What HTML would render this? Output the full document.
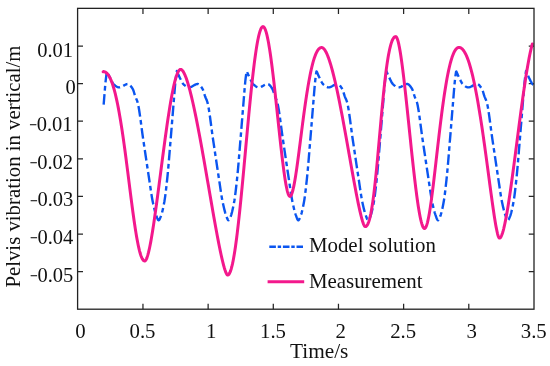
<!DOCTYPE html>
<html><head><meta charset="utf-8"><title>Pelvis vibration</title>
<style>
html,body{margin:0;padding:0;background:#fff;}
body{width:550px;height:366px;overflow:hidden;}
svg{display:block;}
text{font-family:"Liberation Serif","Times New Roman",serif;font-size:20.8px;fill:#111;}
</style></head><body>
<svg width="550" height="366" viewBox="0 0 550 366">
<rect width="550" height="366" fill="#fff"/>
<defs><clipPath id="c"><rect x="77.8" y="8.4" width="456.15000000000003" height="300.8"/></clipPath></defs>
<path d="M142.96,309.20V303.70M142.96,8.40V13.90M208.13,309.20V303.70M208.13,8.40V13.90M273.29,309.20V303.70M273.29,8.40V13.90M338.46,309.20V303.70M338.46,8.40V13.90M403.62,309.20V303.70M403.62,8.40V13.90M468.79,309.20V303.70M468.79,8.40V13.90M77.80,271.60H83.00M533.95,271.60H528.75M77.80,234.00H83.00M533.95,234.00H528.75M77.80,196.40H83.00M533.95,196.40H528.75M77.80,158.80H83.00M533.95,158.80H528.75M77.80,121.20H83.00M533.95,121.20H528.75M77.80,83.60H83.00M533.95,83.60H528.75M77.80,46.00H83.00M533.95,46.00H528.75" stroke="#262626" stroke-width="1.25" fill="none"/>
<g clip-path="url(#c)" fill="none" stroke-linejoin="round">
<path d="M103.65,104.61 L104.05,99.76 L104.45,94.74 L104.85,89.77 L105.25,85.10 L105.65,81.00 L106.05,77.55 L106.45,74.50 L106.85,71.87 L107.25,71.62 L107.65,72.59 L108.05,73.54 L108.45,74.47 L108.85,75.37 L109.25,76.25 L109.65,77.09 L110.05,77.90 L110.45,78.70 L110.85,79.53 L111.25,80.35 L111.65,81.16 L112.05,81.93 L112.45,82.64 L112.85,83.28 L113.25,83.82 L113.65,84.25 L114.05,84.61 L114.45,84.95 L114.85,85.29 L115.25,85.61 L115.65,85.91 L116.05,86.20 L116.45,86.46 L116.85,86.69 L117.25,86.90 L117.65,87.08 L118.05,87.22 L118.45,87.32 L118.85,87.38 L119.25,87.40 L119.65,87.37 L120.05,87.31 L120.45,87.21 L120.85,87.08 L121.25,86.92 L121.65,86.74 L122.05,86.54 L122.45,86.33 L122.85,86.11 L123.25,85.88 L123.65,85.64 L124.05,85.41 L124.45,85.18 L124.85,84.96 L125.25,84.75 L125.65,84.56 L126.05,84.40 L126.45,84.25 L126.85,84.14 L127.25,84.05 L127.65,84.01 L128.05,84.01 L128.45,84.09 L128.85,84.26 L129.25,84.51 L129.65,84.83 L130.05,85.22 L130.45,85.67 L130.85,86.17 L131.25,86.71 L131.65,87.28 L132.05,87.88 L132.45,88.50 L132.85,89.16 L133.25,90.07 L133.65,91.22 L134.05,92.51 L134.45,93.86 L134.85,95.17 L135.25,96.36 L135.65,97.38 L136.05,98.29 L136.45,99.17 L136.85,100.11 L137.25,101.20 L137.65,102.53 L138.05,104.18 L138.45,106.12 L138.85,108.32 L139.25,110.75 L139.65,113.37 L140.05,116.14 L140.45,119.03 L140.85,122.01 L141.25,125.04 L141.65,128.08 L142.05,131.10 L142.45,134.06 L142.85,136.93 L143.25,139.67 L143.65,142.32 L144.05,144.98 L144.45,147.66 L144.85,150.34 L145.25,153.04 L145.65,155.73 L146.05,158.42 L146.45,161.11 L146.85,163.80 L147.25,166.47 L147.65,169.14 L148.05,171.79 L148.45,174.42 L148.85,177.03 L149.25,179.64 L149.65,182.32 L150.05,185.04 L150.45,187.77 L150.85,190.47 L151.25,193.11 L151.65,195.64 L152.05,198.03 L152.45,200.24 L152.85,202.24 L153.25,204.11 L153.65,205.91 L154.05,207.64 L154.45,209.28 L154.85,210.83 L155.25,212.27 L155.65,213.60 L156.05,214.81 L156.45,215.91 L156.85,217.04 L157.25,218.15 L157.65,219.13 L158.05,219.87 L158.45,220.27 L158.85,220.22 L159.25,219.80 L159.65,219.12 L160.05,218.26 L160.45,217.34 L160.85,216.40 L161.25,215.29 L161.65,214.01 L162.05,212.57 L162.45,210.97 L162.85,209.24 L163.25,207.39 L163.65,205.42 L164.05,203.34 L164.45,201.16 L164.85,198.66 L165.25,195.83 L165.65,192.73 L166.05,189.39 L166.45,185.88 L166.85,182.25 L167.25,178.53 L167.65,174.58 L168.05,170.33 L168.45,165.84 L168.85,161.16 L169.25,156.36 L169.65,151.49 L170.05,146.61 L170.45,141.79 L170.85,137.02 L171.25,132.17 L171.65,127.25 L172.05,122.30 L172.45,117.33 L172.85,112.40 L173.25,107.51 L173.65,102.70 L174.05,97.76 L174.45,92.73 L174.85,87.85 L175.25,83.38 L175.65,79.56 L176.05,76.28 L176.45,73.39 L176.85,71.02 L177.25,72.01 L177.65,72.98 L178.05,73.92 L178.45,74.84 L178.85,75.73 L179.25,76.59 L179.65,77.42 L180.05,78.22 L180.45,79.03 L180.85,79.86 L181.25,80.68 L181.65,81.47 L182.05,82.22 L182.45,82.90 L182.85,83.51 L183.25,84.01 L183.65,84.40 L184.05,84.75 L184.45,85.09 L184.85,85.42 L185.25,85.73 L185.65,86.03 L186.05,86.30 L186.45,86.56 L186.85,86.78 L187.25,86.98 L187.65,87.14 L188.05,87.26 L188.45,87.35 L188.85,87.39 L189.25,87.39 L189.65,87.35 L190.05,87.27 L190.45,87.16 L190.85,87.02 L191.25,86.85 L191.65,86.67 L192.05,86.46 L192.45,86.24 L192.85,86.01 L193.25,85.78 L193.65,85.55 L194.05,85.32 L194.45,85.09 L194.85,84.88 L195.25,84.68 L195.65,84.49 L196.05,84.34 L196.45,84.20 L196.85,84.10 L197.25,84.03 L197.65,84.00 L198.05,84.03 L198.45,84.15 L198.85,84.35 L199.25,84.63 L199.65,84.98 L200.05,85.40 L200.45,85.86 L200.85,86.38 L201.25,86.93 L201.65,87.52 L202.05,88.13 L202.45,88.76 L202.85,89.49 L203.25,90.51 L203.65,91.72 L204.05,93.05 L204.45,94.39 L204.85,95.67 L205.25,96.79 L205.65,97.75 L206.05,98.64 L206.45,99.53 L206.85,100.53 L207.25,101.70 L207.65,103.15 L208.05,104.92 L208.45,106.97 L208.85,109.27 L209.25,111.77 L209.65,114.46 L210.05,117.29 L210.45,120.22 L210.85,123.22 L211.25,126.26 L211.65,129.29 L212.05,132.29 L212.45,135.22 L212.85,138.04 L213.25,140.73 L213.65,143.38 L214.05,146.05 L214.45,148.73 L214.85,151.42 L215.25,154.11 L215.65,156.81 L216.05,159.50 L216.45,162.19 L216.85,164.87 L217.25,167.54 L217.65,170.20 L218.05,172.84 L218.45,175.46 L218.85,178.06 L219.25,180.70 L219.65,183.41 L220.05,186.14 L220.45,188.86 L220.85,191.54 L221.25,194.13 L221.65,196.61 L222.05,198.94 L222.45,201.07 L222.85,202.99 L223.25,204.84 L223.65,206.61 L224.05,208.31 L224.45,209.91 L224.85,211.42 L225.25,212.82 L225.65,214.10 L226.05,215.26 L226.45,216.35 L226.85,217.49 L227.25,218.56 L227.65,219.46 L228.05,220.08 L228.45,220.30 L228.85,220.09 L229.25,219.55 L229.65,218.79 L230.05,217.90 L230.45,216.98 L230.85,215.98 L231.25,214.80 L231.65,213.45 L232.05,211.95 L232.45,210.30 L232.85,208.51 L233.25,206.61 L233.65,204.60 L234.05,202.49 L234.45,200.20 L234.85,197.56 L235.25,194.62 L235.65,191.42 L236.05,188.01 L236.45,184.44 L236.85,180.77 L237.25,176.99 L237.65,172.91 L238.05,168.56 L238.45,163.99 L238.85,159.25 L239.25,154.42 L239.65,149.54 L240.05,144.67 L240.45,139.88 L240.85,135.09 L241.25,130.21 L241.65,125.27 L242.05,120.31 L242.45,115.35 L242.85,110.43 L243.25,105.58 L243.65,100.75 L244.05,95.74 L244.45,90.74 L244.85,86.00 L245.25,81.76 L245.65,78.20 L246.05,75.08 L246.45,72.36 L246.85,71.42 L247.25,72.40 L247.65,73.36 L248.05,74.29 L248.45,75.19 L248.85,76.07 L249.25,76.92 L249.65,77.74 L250.05,78.54 L250.45,79.36 L250.85,80.19 L251.25,81.00 L251.65,81.78 L252.05,82.50 L252.45,83.16 L252.85,83.72 L253.25,84.18 L253.65,84.54 L254.05,84.88 L254.45,85.22 L254.85,85.54 L255.25,85.85 L255.65,86.14 L256.05,86.41 L256.45,86.65 L256.85,86.86 L257.25,87.05 L257.65,87.19 L258.05,87.30 L258.45,87.37 L258.85,87.40 L259.25,87.38 L259.65,87.32 L260.05,87.23 L260.45,87.11 L260.85,86.96 L261.25,86.78 L261.65,86.59 L262.05,86.37 L262.45,86.15 L262.85,85.92 L263.25,85.69 L263.65,85.45 L264.05,85.23 L264.45,85.00 L264.85,84.79 L265.25,84.60 L265.65,84.43 L266.05,84.28 L266.45,84.16 L266.85,84.07 L267.25,84.01 L267.65,84.00 L268.05,84.07 L268.45,84.22 L268.85,84.45 L269.25,84.76 L269.65,85.14 L270.05,85.58 L270.45,86.06 L270.85,86.60 L271.25,87.16 L271.65,87.76 L272.05,88.38 L272.45,89.02 L272.85,89.87 L273.25,90.97 L273.65,92.24 L274.05,93.59 L274.45,94.91 L274.85,96.14 L275.25,97.19 L275.65,98.11 L276.05,98.99 L276.45,99.92 L276.85,100.97 L277.25,102.24 L277.65,103.82 L278.05,105.71 L278.45,107.86 L278.85,110.25 L279.25,112.83 L279.65,115.58 L280.05,118.45 L280.45,121.41 L280.85,124.43 L281.25,127.47 L281.65,130.50 L282.05,133.47 L282.45,136.36 L282.85,139.13 L283.25,141.79 L283.65,144.45 L284.05,147.12 L284.45,149.81 L284.85,152.50 L285.25,155.19 L285.65,157.88 L286.05,160.58 L286.45,163.26 L286.85,165.94 L287.25,168.61 L287.65,171.26 L288.05,173.89 L288.45,176.51 L288.85,179.11 L289.25,181.78 L289.65,184.50 L290.05,187.23 L290.45,189.94 L290.85,192.59 L291.25,195.14 L291.65,197.56 L292.05,199.81 L292.45,201.86 L292.85,203.74 L293.25,205.56 L293.65,207.30 L294.05,208.96 L294.45,210.53 L294.85,211.99 L295.25,213.34 L295.65,214.58 L296.05,215.69 L296.45,216.81 L296.85,217.93 L297.25,218.95 L297.65,219.75 L298.05,220.22 L298.45,220.26 L298.85,219.91 L299.25,219.27 L299.65,218.44 L300.05,217.53 L300.45,216.60 L300.85,215.53 L301.25,214.28 L301.65,212.87 L302.05,211.30 L302.45,209.60 L302.85,207.77 L303.25,205.82 L303.65,203.76 L304.05,201.61 L304.45,199.19 L304.85,196.42 L305.25,193.37 L305.65,190.08 L306.05,186.60 L306.45,182.98 L306.85,179.28 L307.25,175.40 L307.65,171.20 L308.05,166.75 L308.45,162.11 L308.85,157.33 L309.25,152.47 L309.65,147.59 L310.05,142.74 L310.45,137.98 L310.85,133.14 L311.25,128.24 L311.65,123.29 L312.05,118.33 L312.45,113.38 L312.85,108.48 L313.25,103.66 L313.65,98.76 L314.05,93.73 L314.45,88.80 L314.85,84.23 L315.25,80.27 L315.65,76.91 L316.05,73.94 L316.45,71.40 L316.85,71.82 L317.25,72.79 L317.65,73.73 L318.05,74.65 L318.45,75.55 L318.85,76.42 L319.25,77.25 L319.65,78.06 L320.05,78.87 L320.45,79.69 L320.85,80.51 L321.25,81.31 L321.65,82.07 L322.05,82.77 L322.45,83.39 L322.85,83.92 L323.25,84.33 L323.65,84.68 L324.05,85.02 L324.45,85.35 L324.85,85.67 L325.25,85.97 L325.65,86.25 L326.05,86.51 L326.45,86.74 L326.85,86.94 L327.25,87.11 L327.65,87.24 L328.05,87.34 L328.45,87.39 L328.85,87.40 L329.25,87.36 L329.65,87.29 L330.05,87.19 L330.45,87.05 L330.85,86.89 L331.25,86.70 L331.65,86.50 L332.05,86.29 L332.45,86.06 L332.85,85.83 L333.25,85.59 L333.65,85.36 L334.05,85.14 L334.45,84.92 L334.85,84.71 L335.25,84.53 L335.65,84.36 L336.05,84.23 L336.45,84.12 L336.85,84.04 L337.25,84.00 L337.65,84.02 L338.05,84.12 L338.45,84.30 L338.85,84.57 L339.25,84.91 L339.65,85.31 L340.05,85.77 L340.45,86.27 L340.85,86.82 L341.25,87.40 L341.65,88.01 L342.05,88.63 L342.45,89.32 L342.85,90.29 L343.25,91.47 L343.65,92.78 L344.05,94.12 L344.45,95.42 L344.85,96.58 L345.25,97.57 L345.65,98.46 L346.05,99.35 L346.45,100.32 L346.85,101.45 L347.25,102.84 L347.65,104.54 L348.05,106.54 L348.45,108.79 L348.85,111.26 L349.25,113.91 L349.65,116.71 L350.05,119.62 L350.45,122.62 L350.85,125.65 L351.25,128.69 L351.65,131.70 L352.05,134.64 L352.45,137.49 L352.85,140.20 L353.25,142.85 L353.65,145.52 L354.05,148.20 L354.45,150.88 L354.85,153.57 L355.25,156.27 L355.65,158.96 L356.05,161.65 L356.45,164.33 L356.85,167.01 L357.25,169.67 L357.65,172.31 L358.05,174.94 L358.45,177.55 L358.85,180.17 L359.25,182.86 L359.65,185.59 L360.05,188.32 L360.45,191.01 L360.85,193.62 L361.25,196.13 L361.65,198.48 L362.05,200.66 L362.45,202.62 L362.85,204.48 L363.25,206.26 L363.65,207.98 L364.05,209.60 L364.45,211.13 L364.85,212.55 L365.25,213.85 L365.65,215.04 L366.05,216.13 L366.45,217.26 L366.85,218.36 L367.25,219.30 L367.65,219.98 L368.05,220.29 L368.45,220.16 L368.85,219.68 L369.25,218.96 L369.65,218.08 L370.05,217.16 L370.45,216.19 L370.85,215.05 L371.25,213.73 L371.65,212.26 L372.05,210.64 L372.45,208.88 L372.85,207.00 L373.25,205.01 L373.65,202.92 L374.05,200.69 L374.45,198.12 L374.85,195.23 L375.25,192.08 L375.65,188.70 L376.05,185.17 L376.45,181.51 L376.85,177.77 L377.25,173.75 L377.65,169.45 L378.05,164.92 L378.45,160.21 L378.85,155.39 L379.25,150.52 L379.65,145.64 L380.05,140.83 L380.45,136.05 L380.85,131.19 L381.25,126.26 L381.65,121.30 L382.05,116.34 L382.45,111.41 L382.85,106.54 L383.25,101.73 L383.65,96.75 L384.05,91.73 L384.45,86.92 L384.85,82.56 L385.25,78.88 L385.65,75.67 L386.05,72.87 L386.45,71.22 L386.85,72.21 L387.25,73.17 L387.65,74.10 L388.05,75.02 L388.45,75.90 L388.85,76.76 L389.25,77.58 L389.65,78.38 L390.05,79.20 L390.45,80.02 L390.85,80.84 L391.25,81.62 L391.65,82.36 L392.05,83.03 L392.45,83.62 L392.85,84.10 L393.25,84.47 L393.65,84.82 L394.05,85.15 L394.45,85.48 L394.85,85.79 L395.25,86.08 L395.65,86.36 L396.05,86.60 L396.45,86.82 L396.85,87.01 L397.25,87.17 L397.65,87.28 L398.05,87.36 L398.45,87.40 L398.85,87.39 L399.25,87.34 L399.65,87.25 L400.05,87.13 L400.45,86.99 L400.85,86.82 L401.25,86.63 L401.65,86.42 L402.05,86.20 L402.45,85.97 L402.85,85.74 L403.25,85.50 L403.65,85.27 L404.05,85.05 L404.45,84.83 L404.85,84.64 L405.25,84.46 L405.65,84.31 L406.05,84.18 L406.45,84.08 L406.85,84.02 L407.25,84.00 L407.65,84.05 L408.05,84.18 L408.45,84.40 L408.85,84.70 L409.25,85.06 L409.65,85.49 L410.05,85.96 L410.45,86.49 L410.85,87.05 L411.25,87.64 L411.65,88.25 L412.05,88.88 L412.45,89.68 L412.85,90.74 L413.25,91.98 L413.65,93.32 L414.05,94.65 L414.45,95.91 L414.85,96.99 L415.25,97.93 L415.65,98.81 L416.05,99.72 L416.45,100.74 L416.85,101.97 L417.25,103.48 L417.65,105.31 L418.05,107.41 L418.45,109.75 L418.85,112.30 L419.25,115.01 L419.65,117.86 L420.05,120.81 L420.45,123.83 L420.85,126.86 L421.25,129.90 L421.65,132.88 L422.05,135.79 L422.45,138.59 L422.85,141.26 L423.25,143.92 L423.65,146.59 L424.05,149.27 L424.45,151.96 L424.85,154.65 L425.25,157.35 L425.65,160.04 L426.05,162.72 L426.45,165.40 L426.85,168.07 L427.25,170.73 L427.65,173.37 L428.05,175.99 L428.45,178.59 L428.85,181.24 L429.25,183.95 L429.65,186.68 L430.05,189.40 L430.45,192.07 L430.85,194.64 L431.25,197.09 L431.65,199.38 L432.05,201.47 L432.45,203.37 L432.85,205.20 L433.25,206.96 L433.65,208.64 L434.05,210.22 L434.45,211.71 L434.85,213.08 L435.25,214.34 L435.65,215.47 L436.05,216.58 L436.45,217.71 L436.85,218.76 L437.25,219.61 L437.65,220.16 L438.05,220.29 L438.45,220.01 L438.85,219.42 L439.25,218.62 L439.65,217.71 L440.05,216.79 L440.45,215.76 L440.85,214.54 L441.25,213.16 L441.65,211.63 L442.05,209.95 L442.45,208.14 L442.85,206.22 L443.25,204.18 L443.65,202.05 L444.05,199.70 L444.45,197.00 L444.85,194.00 L445.25,190.75 L445.65,187.31 L446.05,183.71 L446.45,180.03 L446.85,176.20 L447.25,172.06 L447.65,167.66 L448.05,163.05 L448.45,158.29 L448.85,153.44 L449.25,148.56 L449.65,143.71 L450.05,138.93 L450.45,134.12 L450.85,129.22 L451.25,124.28 L451.65,119.32 L452.05,114.37 L452.45,109.45 L452.85,104.61 L453.25,99.76 L453.65,94.74 L454.05,89.77 L454.45,85.10 L454.85,81.00 L455.25,77.55 L455.65,74.50 L456.05,71.87 L456.45,71.62 L456.85,72.59 L457.25,73.54 L457.65,74.47 L458.05,75.37 L458.45,76.25 L458.85,77.09 L459.25,77.90 L459.65,78.70 L460.05,79.53 L460.45,80.35 L460.85,81.16 L461.25,81.93 L461.65,82.64 L462.05,83.28 L462.45,83.82 L462.85,84.25 L463.25,84.61 L463.65,84.95 L464.05,85.29 L464.45,85.61 L464.85,85.91 L465.25,86.20 L465.65,86.46 L466.05,86.69 L466.45,86.90 L466.85,87.08 L467.25,87.22 L467.65,87.32 L468.05,87.38 L468.45,87.40 L468.85,87.37 L469.25,87.31 L469.65,87.21 L470.05,87.08 L470.45,86.92 L470.85,86.74 L471.25,86.54 L471.65,86.33 L472.05,86.11 L472.45,85.88 L472.85,85.64 L473.25,85.41 L473.65,85.18 L474.05,84.96 L474.45,84.75 L474.85,84.56 L475.25,84.40 L475.65,84.25 L476.05,84.14 L476.45,84.05 L476.85,84.01 L477.25,84.01 L477.65,84.09 L478.05,84.26 L478.45,84.51 L478.85,84.83 L479.25,85.22 L479.65,85.67 L480.05,86.17 L480.45,86.71 L480.85,87.28 L481.25,87.88 L481.65,88.50 L482.05,89.16 L482.45,90.07 L482.85,91.22 L483.25,92.51 L483.65,93.86 L484.05,95.17 L484.45,96.36 L484.85,97.38 L485.25,98.29 L485.65,99.17 L486.05,100.11 L486.45,101.20 L486.85,102.53 L487.25,104.18 L487.65,106.12 L488.05,108.32 L488.45,110.75 L488.85,113.37 L489.25,116.14 L489.65,119.03 L490.05,122.01 L490.45,125.04 L490.85,128.08 L491.25,131.10 L491.65,134.06 L492.05,136.93 L492.45,139.67 L492.85,142.32 L493.25,144.98 L493.65,147.66 L494.05,150.34 L494.45,153.04 L494.85,155.73 L495.25,158.42 L495.65,161.11 L496.05,163.80 L496.45,166.47 L496.85,169.14 L497.25,171.79 L497.65,174.42 L498.05,177.03 L498.45,179.64 L498.85,182.32 L499.25,185.04 L499.65,187.77 L500.05,190.47 L500.45,193.11 L500.85,195.64 L501.25,198.03 L501.65,200.24 L502.05,202.24 L502.45,204.11 L502.85,205.91 L503.25,207.64 L503.65,209.28 L504.05,210.83 L504.45,212.27 L504.85,213.60 L505.25,214.81 L505.65,215.91 L506.05,217.04 L506.45,218.15 L506.85,219.13 L507.25,219.87 L507.65,220.27 L508.05,220.22 L508.45,219.80 L508.85,219.12 L509.25,218.26 L509.65,217.34 L510.05,216.40 L510.45,215.29 L510.85,214.01 L511.25,212.57 L511.65,210.97 L512.05,209.24 L512.45,207.39 L512.85,205.42 L513.25,203.34 L513.65,201.16 L514.05,198.66 L514.45,195.83 L514.85,192.73 L515.25,189.39 L515.65,185.88 L516.05,182.25 L516.45,178.53 L516.85,174.58 L517.25,170.33 L517.65,165.84 L518.05,161.16 L518.45,156.36 L518.85,151.49 L519.25,146.61 L519.65,141.79 L520.05,137.02 L520.45,132.17 L520.85,127.25 L521.25,122.30 L521.65,117.33 L522.05,112.40 L522.45,107.51 L522.85,102.70 L523.25,97.76 L523.65,92.73 L524.05,87.85 L524.45,83.38 L524.85,79.56 L525.25,76.28 L525.65,73.39 L526.05,71.02 L526.45,72.01 L526.85,72.98 L527.25,73.92 L527.65,74.84 L528.05,75.73 L528.45,76.59 L528.85,77.42 L529.25,78.22 L529.65,79.03 L530.05,79.86 L530.45,80.68 L530.85,81.47 L531.25,82.22 L531.65,82.90 L532.05,83.51 L532.45,84.01 L532.85,84.40 L533.25,84.75 L533.65,85.09 L533.95,85.34" stroke="#0a55f0" stroke-width="2.4" stroke-dasharray="10.6 3.5 4.6 3.5"/>
<path d="M103.10,71.75 L103.11,71.75 L103.12,71.75 L103.13,71.75 L103.13,71.75 L103.14,71.75 L103.15,71.75 L103.16,71.75 L103.17,71.75 L103.18,71.75 L103.18,71.75 L103.19,71.75 L103.20,71.75 L103.21,71.74 L103.22,71.74 L103.23,71.74 L103.24,71.74 L103.24,71.74 L103.25,71.74 L103.26,71.74 L103.27,71.74 L103.28,71.74 L103.29,71.73 L103.29,71.73 L103.30,71.73 L103.31,71.73 L103.32,71.73 L103.33,71.73 L103.34,71.73 L103.35,71.73 L103.35,71.72 L103.36,71.72 L103.37,71.72 L103.38,71.72 L103.39,71.72 L103.40,71.72 L103.41,71.72 L103.41,71.72 L103.42,71.71 L103.43,71.71 L103.44,71.71 L103.45,71.71 L103.46,71.71 L103.46,71.71 L103.47,71.71 L103.48,71.71 L103.49,71.71 L103.50,71.70 L103.51,71.70 L103.52,71.70 L103.52,71.70 L103.53,71.70 L103.54,71.70 L103.55,71.70 L103.56,71.70 L103.57,71.70 L103.57,71.70 L103.58,71.70 L103.59,71.70 L103.60,71.70 L104.58,71.83 L105.55,72.24 L106.50,72.91 L107.43,73.84 L108.35,75.03 L109.26,76.49 L110.15,78.20 L111.02,80.16 L111.88,82.36 L112.73,84.80 L113.57,87.48 L114.39,90.37 L115.20,93.49 L115.99,96.80 L116.78,100.32 L117.55,104.02 L118.31,107.90 L119.06,111.95 L119.80,116.15 L120.53,120.49 L121.25,124.96 L121.96,129.55 L122.67,134.24 L123.36,139.03 L124.04,143.89 L124.72,148.81 L125.39,153.79 L126.05,158.80 L126.70,163.83 L127.35,168.87 L127.99,173.90 L128.62,178.91 L129.25,183.89 L129.87,188.81 L130.49,193.67 L131.11,198.46 L131.72,203.15 L132.32,207.74 L132.92,212.21 L133.52,216.55 L134.11,220.75 L134.71,224.80 L135.30,228.68 L135.88,232.38 L136.47,235.90 L137.06,239.21 L137.64,242.33 L138.22,245.22 L138.81,247.90 L139.39,250.34 L139.97,252.54 L140.56,254.50 L141.14,256.21 L141.73,257.67 L142.32,258.86 L142.91,259.79 L143.50,260.46 L144.10,260.87 L144.70,261.00 L145.13,260.86 L145.58,260.46 L146.04,259.78 L146.51,258.84 L147.00,257.62 L147.49,256.15 L148.00,254.42 L148.52,252.44 L149.05,250.21 L149.59,247.74 L150.14,245.03 L150.70,242.10 L151.26,238.95 L151.84,235.59 L152.43,232.03 L153.02,228.29 L153.62,224.36 L154.23,220.26 L154.84,216.01 L155.46,211.62 L156.09,207.09 L156.72,202.45 L157.36,197.70 L158.00,192.86 L158.65,187.94 L159.30,182.95 L159.96,177.92 L160.62,172.84 L161.28,167.75 L161.94,162.65 L162.61,157.56 L163.28,152.48 L163.95,147.45 L164.62,142.46 L165.29,137.54 L165.96,132.70 L166.63,127.95 L167.30,123.31 L167.97,118.78 L168.64,114.39 L169.31,110.14 L169.97,106.04 L170.64,102.11 L171.30,98.37 L171.95,94.81 L172.61,91.45 L173.26,88.30 L173.90,85.37 L174.54,82.66 L175.18,80.19 L175.81,77.96 L176.43,75.98 L177.05,74.25 L177.66,72.78 L178.26,71.56 L178.86,70.62 L179.45,69.94 L180.03,69.54 L180.60,69.40 L181.24,69.55 L181.90,69.98 L182.59,70.71 L183.30,71.72 L184.04,73.02 L184.79,74.60 L185.57,76.46 L186.36,78.59 L187.17,80.98 L188.00,83.63 L188.85,86.54 L189.71,89.68 L190.58,93.06 L191.47,96.67 L192.37,100.48 L193.28,104.51 L194.20,108.72 L195.13,113.11 L196.06,117.67 L197.00,122.39 L197.95,127.24 L198.90,132.23 L199.86,137.33 L200.82,142.52 L201.78,147.80 L202.74,153.15 L203.69,158.56 L204.65,164.00 L205.60,169.46 L206.55,174.94 L207.50,180.40 L208.44,185.84 L209.37,191.25 L210.29,196.60 L211.21,201.88 L212.11,207.07 L213.01,212.17 L213.89,217.16 L214.75,222.01 L215.61,226.73 L216.45,231.29 L217.27,235.68 L218.07,239.89 L218.86,243.92 L219.62,247.73 L220.37,251.34 L221.09,254.72 L221.79,257.86 L222.47,260.77 L223.12,263.42 L223.75,265.81 L224.35,267.94 L224.92,269.80 L225.46,271.38 L225.97,272.68 L226.45,273.69 L226.90,274.42 L227.32,274.85 L227.70,275.00 L228.29,274.82 L228.89,274.30 L229.49,273.42 L230.08,272.19 L230.68,270.62 L231.28,268.72 L231.88,266.47 L232.48,263.90 L233.08,261.01 L233.68,257.81 L234.28,254.30 L234.89,250.50 L235.49,246.41 L236.09,242.06 L236.70,237.45 L237.30,232.59 L237.90,227.50 L238.51,222.19 L239.11,216.68 L239.72,210.98 L240.32,205.11 L240.93,199.09 L241.53,192.93 L242.14,186.66 L242.74,180.28 L243.35,173.81 L243.96,167.28 L244.56,160.71 L245.17,154.11 L245.77,147.49 L246.37,140.89 L246.98,134.32 L247.58,127.79 L248.18,121.32 L248.79,114.94 L249.39,108.67 L249.99,102.51 L250.59,96.49 L251.19,90.62 L251.79,84.92 L252.39,79.41 L252.99,74.10 L253.59,69.01 L254.18,64.15 L254.78,59.54 L255.37,55.19 L255.97,51.10 L256.56,47.30 L257.15,43.79 L257.74,40.59 L258.33,37.70 L258.92,35.13 L259.51,32.88 L260.09,30.98 L260.68,29.41 L261.26,28.18 L261.84,27.30 L262.42,26.78 L263.00,26.60 L263.45,26.72 L263.91,27.08 L264.37,27.68 L264.83,28.52 L265.30,29.59 L265.77,30.90 L266.24,32.43 L266.71,34.19 L267.18,36.16 L267.66,38.35 L268.14,40.75 L268.62,43.35 L269.10,46.14 L269.59,49.12 L270.07,52.27 L270.56,55.59 L271.04,59.07 L271.53,62.70 L272.02,66.47 L272.50,70.36 L272.99,74.37 L273.48,78.49 L273.97,82.70 L274.45,86.99 L274.94,91.35 L275.43,95.77 L275.91,100.23 L276.39,104.73 L276.88,109.24 L277.36,113.76 L277.84,118.27 L278.31,122.77 L278.79,127.23 L279.26,131.65 L279.73,136.01 L280.20,140.30 L280.67,144.51 L281.13,148.63 L281.59,152.64 L282.05,156.53 L282.50,160.30 L282.95,163.93 L283.40,167.41 L283.84,170.73 L284.28,173.88 L284.71,176.86 L285.14,179.65 L285.57,182.25 L285.99,184.65 L286.41,186.84 L286.82,188.81 L287.22,190.57 L287.62,192.10 L288.02,193.41 L288.41,194.48 L288.79,195.32 L289.17,195.92 L289.54,196.28 L289.90,196.40 L290.27,196.29 L290.65,195.98 L291.03,195.45 L291.41,194.72 L291.80,193.78 L292.19,192.63 L292.59,191.29 L292.99,189.75 L293.39,188.01 L293.80,186.09 L294.22,183.99 L294.63,181.71 L295.06,179.26 L295.49,176.65 L295.92,173.89 L296.36,170.98 L296.80,167.92 L297.25,164.74 L297.70,161.44 L298.16,158.02 L298.63,154.51 L299.10,150.90 L299.57,147.21 L300.06,143.44 L300.54,139.62 L301.04,135.74 L301.54,131.83 L302.05,127.89 L302.56,123.93 L303.08,119.97 L303.61,116.01 L304.15,112.07 L304.69,108.16 L305.24,104.28 L305.79,100.46 L306.36,96.69 L306.93,93.00 L307.51,89.39 L308.09,85.88 L308.69,82.46 L309.29,79.16 L309.90,75.98 L310.52,72.92 L311.14,70.01 L311.78,67.25 L312.42,64.64 L313.07,62.19 L313.73,59.91 L314.40,57.81 L315.08,55.89 L315.77,54.15 L316.46,52.61 L317.17,51.27 L317.88,50.12 L318.61,49.18 L319.34,48.45 L320.08,47.92 L320.84,47.61 L321.60,47.50 L322.29,47.63 L323.01,48.01 L323.73,48.64 L324.47,49.52 L325.23,50.66 L326.00,52.03 L326.79,53.65 L327.58,55.50 L328.39,57.59 L329.21,59.90 L330.03,62.43 L330.87,65.17 L331.71,68.11 L332.56,71.25 L333.42,74.58 L334.28,78.08 L335.15,81.75 L336.02,85.58 L336.90,89.55 L337.78,93.66 L338.66,97.89 L339.54,102.23 L340.42,106.67 L341.29,111.20 L342.17,115.80 L343.05,120.46 L343.92,125.16 L344.79,129.91 L345.65,134.67 L346.51,139.43 L347.36,144.19 L348.20,148.94 L349.04,153.64 L349.86,158.30 L350.68,162.90 L351.49,167.43 L352.28,171.87 L353.07,176.21 L353.84,180.44 L354.59,184.55 L355.34,188.52 L356.06,192.35 L356.77,196.02 L357.47,199.52 L358.14,202.85 L358.80,205.99 L359.44,208.93 L360.06,211.67 L360.66,214.20 L361.23,216.51 L361.78,218.60 L362.31,220.45 L362.82,222.07 L363.30,223.44 L363.75,224.58 L364.18,225.46 L364.58,226.09 L364.96,226.47 L365.30,226.60 L365.90,226.47 L366.49,226.06 L367.07,225.39 L367.64,224.45 L368.20,223.25 L368.75,221.79 L369.29,220.08 L369.82,218.11 L370.34,215.90 L370.86,213.45 L371.36,210.76 L371.86,207.86 L372.36,204.73 L372.85,201.40 L373.33,197.87 L373.81,194.16 L374.28,190.26 L374.75,186.20 L375.21,181.99 L375.67,177.63 L376.13,173.14 L376.59,168.54 L377.04,163.83 L377.49,159.03 L377.94,154.15 L378.39,149.20 L378.84,144.21 L379.29,139.18 L379.74,134.13 L380.19,129.07 L380.64,124.02 L381.10,118.99 L381.56,114.00 L382.02,109.05 L382.48,104.17 L382.94,99.37 L383.41,94.66 L383.89,90.06 L384.37,85.57 L384.86,81.21 L385.35,77.00 L385.84,72.94 L386.35,69.04 L386.86,65.33 L387.38,61.80 L387.91,58.47 L388.44,55.34 L388.99,52.44 L389.54,49.75 L390.11,47.30 L390.68,45.09 L391.27,43.12 L391.86,41.41 L392.47,39.95 L393.09,38.75 L393.72,37.81 L394.37,37.14 L395.03,36.73 L395.70,36.60 L396.08,36.74 L396.47,37.14 L396.86,37.82 L397.27,38.77 L397.68,39.98 L398.10,41.46 L398.53,43.19 L398.97,45.17 L399.41,47.41 L399.87,49.88 L400.32,52.59 L400.79,55.53 L401.26,58.68 L401.73,62.05 L402.22,65.61 L402.70,69.37 L403.19,73.30 L403.69,77.40 L404.19,81.66 L404.70,86.06 L405.21,90.59 L405.72,95.24 L406.23,100.00 L406.75,104.85 L407.27,109.78 L407.80,114.77 L408.32,119.81 L408.85,124.89 L409.38,130.00 L409.91,135.10 L410.44,140.21 L410.97,145.29 L411.50,150.33 L412.03,155.32 L412.57,160.25 L413.10,165.10 L413.63,169.86 L414.16,174.51 L414.68,179.04 L415.21,183.44 L415.73,187.70 L416.26,191.80 L416.77,195.73 L417.29,199.49 L417.80,203.05 L418.31,206.42 L418.82,209.57 L419.32,212.51 L419.82,215.22 L420.31,217.69 L420.80,219.93 L421.29,221.91 L421.76,223.64 L422.24,225.12 L422.70,226.33 L423.16,227.28 L423.61,227.96 L424.06,228.36 L424.50,228.50 L424.92,228.37 L425.34,227.99 L425.77,227.35 L426.20,226.45 L426.64,225.31 L427.07,223.92 L427.52,222.28 L427.96,220.41 L428.41,218.30 L428.86,215.96 L429.32,213.41 L429.78,210.64 L430.25,207.66 L430.72,204.48 L431.20,201.12 L431.68,197.58 L432.16,193.87 L432.66,190.00 L433.15,185.98 L433.65,181.83 L434.16,177.55 L434.68,173.16 L435.20,168.67 L435.72,164.09 L436.25,159.44 L436.79,154.73 L437.34,149.97 L437.89,145.17 L438.45,140.36 L439.01,135.54 L439.58,130.73 L440.16,125.93 L440.75,121.17 L441.34,116.46 L441.94,111.81 L442.55,107.23 L443.17,102.74 L443.79,98.35 L444.43,94.07 L445.07,89.92 L445.72,85.90 L446.38,82.03 L447.04,78.32 L447.72,74.78 L448.40,71.42 L449.10,68.24 L449.80,65.26 L450.51,62.49 L451.23,59.94 L451.96,57.60 L452.71,55.49 L453.46,53.62 L454.22,51.98 L454.99,50.59 L455.77,49.45 L456.56,48.55 L457.36,47.91 L458.18,47.53 L459.00,47.40 L459.96,47.54 L460.92,47.94 L461.87,48.61 L462.81,49.55 L463.75,50.76 L464.68,52.22 L465.60,53.95 L466.52,55.92 L467.43,58.14 L468.33,60.60 L469.23,63.29 L470.11,66.21 L470.99,69.35 L471.86,72.69 L472.73,76.23 L473.58,79.96 L474.43,83.87 L475.27,87.94 L476.09,92.17 L476.91,96.55 L477.72,101.05 L478.52,105.68 L479.31,110.40 L480.09,115.22 L480.86,120.12 L481.62,125.08 L482.37,130.09 L483.11,135.14 L483.83,140.21 L484.55,145.29 L485.25,150.36 L485.94,155.41 L486.62,160.42 L487.29,165.38 L487.95,170.28 L488.59,175.10 L489.22,179.82 L489.84,184.45 L490.45,188.95 L491.04,193.33 L491.62,197.56 L492.18,201.63 L492.73,205.54 L493.27,209.27 L493.79,212.81 L494.30,216.15 L494.79,219.29 L495.27,222.21 L495.73,224.90 L496.18,227.36 L496.62,229.58 L497.03,231.55 L497.43,233.28 L497.82,234.74 L498.19,235.95 L498.54,236.89 L498.88,237.56 L499.20,237.96 L499.50,238.10 L499.97,237.96 L500.45,237.52 L500.95,236.81 L501.46,235.81 L501.98,234.52 L502.52,232.96 L503.07,231.13 L503.63,229.02 L504.20,226.66 L504.78,224.04 L505.37,221.17 L505.98,218.07 L506.59,214.73 L507.21,211.17 L507.84,207.39 L508.47,203.42 L509.12,199.26 L509.77,194.92 L510.43,190.41 L511.09,185.76 L511.76,180.96 L512.44,176.04 L513.12,171.00 L513.80,165.87 L514.49,160.65 L515.19,155.37 L515.88,150.03 L516.58,144.65 L517.28,139.25 L517.98,133.85 L518.68,128.45 L519.39,123.07 L520.09,117.73 L520.79,112.45 L521.50,107.23 L522.20,102.10 L522.90,97.06 L523.60,92.14 L524.29,87.34 L524.99,82.69 L525.68,78.18 L526.36,73.84 L527.04,69.68 L527.72,65.71 L528.39,61.93 L529.06,58.37 L529.72,55.03 L530.37,51.93 L531.02,49.06 L531.66,46.44 L532.29,44.08 L532.30,44.04" stroke="#f3188c" stroke-width="3.0" stroke-linecap="round"/>
</g>
<rect x="77.6" y="8.35" width="456.4" height="300.85" fill="none" stroke="#222" stroke-width="1.3"/>
<text x="80.45" y="337.7" text-anchor="middle">0</text>
<text x="142.5" y="337.7" text-anchor="middle">0.5</text>
<text x="211.3" y="337.7" text-anchor="middle">1</text>
<text x="273.0" y="337.7" text-anchor="middle">1.5</text>
<text x="340.6" y="337.7" text-anchor="middle">2</text>
<text x="403.2" y="337.7" text-anchor="middle">2.5</text>
<text x="471.7" y="337.7" text-anchor="middle">3</text>
<text x="533.75" y="337.7" text-anchor="middle">3.5</text>
<text x="73.0" y="57.0" text-anchor="end" style="font-size:20.5px">0.01</text>
<text x="75.7" y="94.0" text-anchor="end" style="font-size:20.5px">0</text>
<text x="72.55" y="131.0" text-anchor="end" style="font-size:20.5px"><tspan style="font-size:13px" stroke="#111" stroke-width="0.35" dy="-1.9">−</tspan><tspan dy="1.9">0.01</tspan></text>
<text x="73.05" y="169.2" text-anchor="end" style="font-size:20.5px"><tspan style="font-size:13px" stroke="#111" stroke-width="0.35" dy="-1.9">−</tspan><tspan dy="1.9">0.02</tspan></text>
<text x="73.3" y="206.4" text-anchor="end" style="font-size:20.5px"><tspan style="font-size:13px" stroke="#111" stroke-width="0.35" dy="-1.9">−</tspan><tspan dy="1.9">0.03</tspan></text>
<text x="73.3" y="243.6" text-anchor="end" style="font-size:20.5px"><tspan style="font-size:13px" stroke="#111" stroke-width="0.35" dy="-1.9">−</tspan><tspan dy="1.9">0.04</tspan></text>
<text x="73.3" y="281.7" text-anchor="end" style="font-size:20.5px"><tspan style="font-size:13px" stroke="#111" stroke-width="0.35" dy="-1.9">−</tspan><tspan dy="1.9">0.05</tspan></text>
<text x="290.0" y="357.7" style="font-size:21.3px">Time/s</text>
<text transform="translate(19.5,287.6) rotate(-90)">Pelvis vibration in vertical/m</text>
<line x1="269.3" y1="246.8" x2="303.0" y2="246.8" stroke="#0a55f0" stroke-width="2.4" stroke-dasharray="6.6 1.8 3.4 1.8"/>
<text x="308.9" y="252.2" style="font-size:20.9px">Model solution</text>
<line x1="267.6" y1="281.8" x2="304.2" y2="281.8" stroke="#f3188c" stroke-width="3.0"/>
<text x="308.9" y="288.0" style="font-size:20.9px">Measurement</text>
</svg>
</body></html>
